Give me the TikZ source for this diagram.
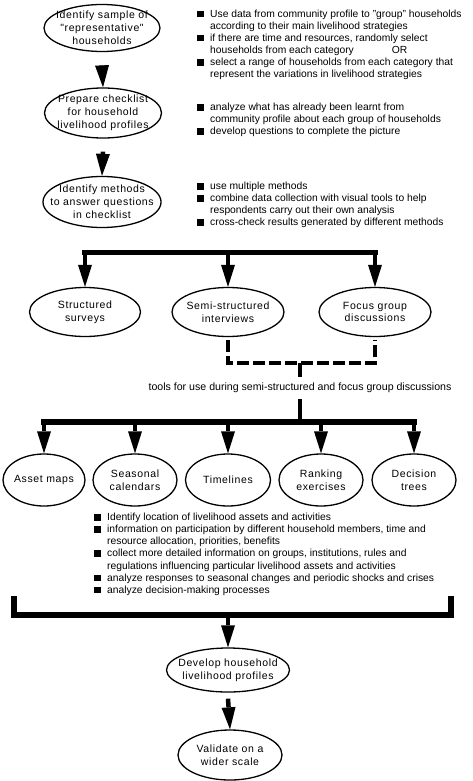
\documentclass[tikz,border=0pt]{standalone}
\usepackage{fontspec}
\setmainfont{Liberation Sans}
\newfontfamily\ellfam[LetterSpace=6]{Liberation Sans}
\usetikzlibrary{shapes.geometric,arrows.meta}

\newcommand{\ellfont}{\ellfam\fontsize{10.5}{12.8}\selectfont}
\newcommand{\bulfont}{\fontsize{10.3}{12.1}\selectfont}
\newcommand{\sq}{\rule{7pt}{6.5pt}}

\tikzset{
	stage/.style={ellipse, draw, line width=1.3pt, fill=white, align=center, inner xsep=-10pt, inner ysep=-6pt, font=\ellfont},
	flow/.style={line width=4.5pt, -{Triangle[width=14pt,length=22pt,line width=0pt]}},
	bar/.style={line width=5.5pt, line cap=rect},
	dashbar/.style={line width=4.5pt, dash pattern=on 12pt off 4pt},
	notes/.style={anchor=north west, inner sep=0pt, font=\bulfont}
}

\begin{document}
\begin{tikzpicture}[x=1pt,y=-1pt]
	
	\useasboundingbox (0,0) rectangle (472,781);
	
	% Steps
	\node[stage, minimum width=116pt, minimum height=47pt] (sample) at (102,28) {Identify sample of\\"representative"\\households};
	\node[stage, minimum width=117pt, minimum height=50pt] (check) at (103,113) {Prepare checklist\\for household\\livelihood profiles};
	\node[stage, minimum width=118pt, minimum height=51pt] (methods) at (102,202) {Identify methods\\to answer questions\\in checklist};
	
	% Notes
	\node[notes] (nsample) at (197,8.5) {\begin{tabular}{@{}l@{\hspace{6pt}}l@{}}
		\sq & Use data from community profile to "group" households\\
		& according to their main livelihood strategies\\
		\sq & if there are time and resources, randomly select\\
		& households from each category\hspace{38pt}OR\\
		\sq & select a range of households from each category that\\
		& represent the variations in livelihood strategies
	\end{tabular}};
	\node[notes] (ncheck) at (197,102) {\begin{tabular}{@{}l@{\hspace{6pt}}l@{}}
		\sq & analyze what has already been learnt from\\
		& community profile about each group of households\\
		\sq & develop questions to complete the picture
	\end{tabular}};
	\node[notes] (nmethods) at (197,181) {\begin{tabular}{@{}l@{\hspace{6pt}}l@{}}
		\sq & use multiple methods\\
		\sq & combine data collection with visual tools to help\\
		& respondents carry out their own analysis\\
		\sq & cross-check results generated by different methods
	\end{tabular}};
	
	% Methods
	\node[stage, minimum width=111pt, minimum height=49pt] (surveys) at (85,312) {Structured\\surveys};
	\node[stage, minimum width=112pt, minimum height=49pt] (semi) at (228,312) {Semi-structured\\interviews};
	\node[stage, minimum width=112pt, minimum height=49pt] (focus) at (375,312) {Focus group\\discussions};
	
	\node[font=\fontsize{10.6}{12}\selectfont, inner xsep=0pt, inner ysep=5.5pt] (tools) at (300,388) {tools for use during semi-structured and focus group discussions};
	
	% Tools
	\node[stage, minimum width=82pt, minimum height=52pt] (asset) at (44,480) {Asset maps};
	\node[stage, minimum width=84pt, minimum height=52pt] (season) at (135,480) {Seasonal\\calendars};
	\node[stage, minimum width=85pt, minimum height=52pt] (time) at (228,480) {Timelines};
	\node[stage, minimum width=84pt, minimum height=52pt] (rank) at (321,480) {Ranking\\exercises};
	\node[stage, minimum width=84pt, minimum height=52pt] (decision) at (414,480) {Decision\\trees};
	
	\node[notes] (ntools) at (94,512) {\begin{tabular}{@{}l@{\hspace{6pt}}l@{}}
		\sq & Identify location of livelihood assets and activities\\
		\sq & information on participation by different household members, time and\\
		& resource allocation, priorities, benefits\\
		\sq & collect more detailed information on groups, institutions, rules and\\
		& regulations influencing particular livelihood assets and activities\\
		\sq & analyze responses to seasonal changes and periodic shocks and crises\\
		\sq & analyze decision-making processes
	\end{tabular}};
	
	% Profiles
	\node[stage, minimum width=123pt, minimum height=44pt] (develop) at (228,670) {Develop household\\livelihood profiles};
	\node[stage, minimum width=104pt, minimum height=50pt] (validate) at (230,755) {Validate on a\\wider scale};
	
	% Junctions
	\coordinate (topbar) at (228,252.5);
	\coordinate (dj) at (300,363);
	\coordinate (midbar) at (300,422);
	\coordinate (bl) at (14,599);
	\coordinate (br) at (451,599);
	\coordinate (bj) at (228,615);
	
	% Arrows
	\draw[flow] ([yshift=-13pt]sample.south) -- (check.north);
	\draw[flow] ([yshift=-13pt]check.south) -- (methods.north);
	
	\draw[bar] (surveys.north |- topbar) -- (focus.north |- topbar);
	\draw[flow] (surveys.north |- topbar) -- (surveys.north);
	\draw[flow] (semi.north |- topbar) -- (semi.north);
	\draw[flow] (focus.north |- topbar) -- (focus.north);
	
	\draw[dashbar] ([yshift=-3pt]semi.south) |- (dj) -| ([yshift=-3pt]focus.south);
	\draw[line width=4.5pt] (dj) -- (tools.north);
	\draw[line width=4.5pt] (tools.south) -- (midbar);
	
	\draw[bar] (asset.north |- midbar) -- (decision.north |- midbar);
	\draw[flow] (asset.north |- midbar) -- (asset.north);
	\draw[flow] (season.north |- midbar) -- (season.north);
	\draw[flow] (time.north |- midbar) -- (time.north);
	\draw[flow] (rank.north |- midbar) -- (rank.north);
	\draw[flow] (decision.north |- midbar) -- (decision.north);
	
	\draw[bar] (bl) |- (bj) -| (br);
	\draw[flow] (bj) -- (develop.north);
	\draw[flow] ([yshift=-6pt]develop.south) -- (validate.north);
	
\end{tikzpicture}
\end{document}
